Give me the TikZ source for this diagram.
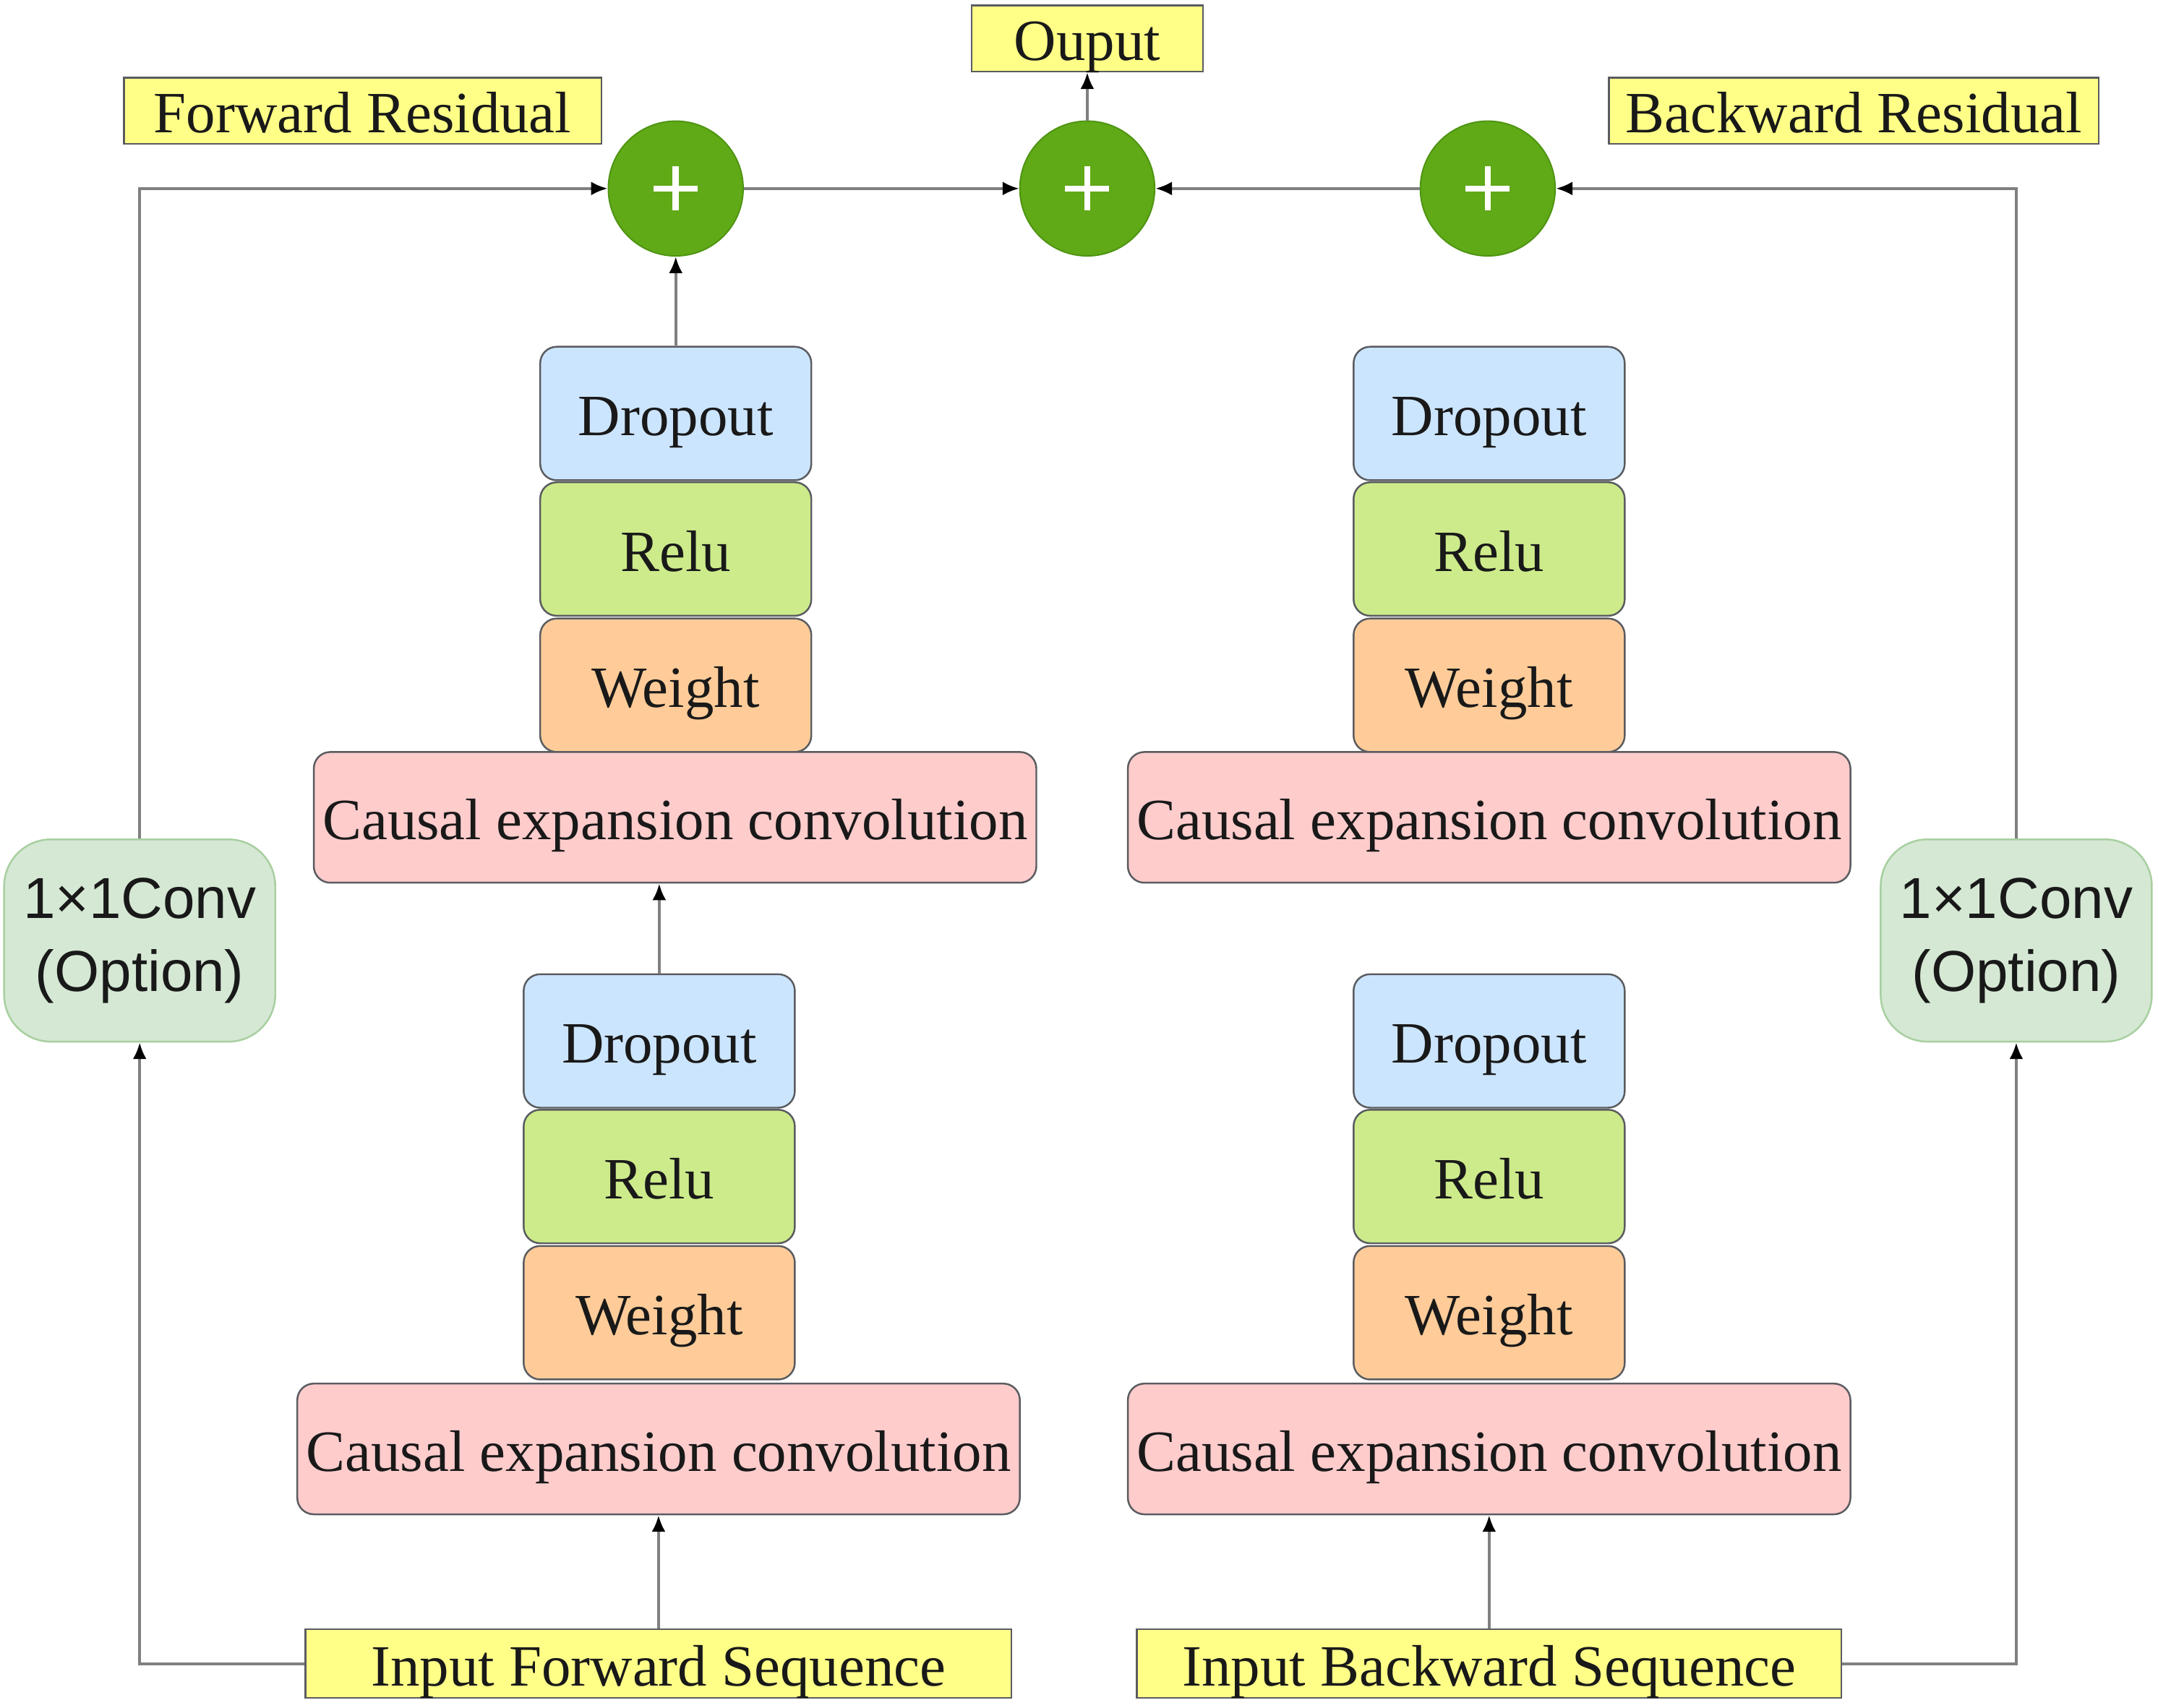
\documentclass[tikz,border=0pt]{standalone}
\usepackage{fontspec}
\setmainfont{Liberation Serif}
\setsansfont{Liberation Sans}
\usetikzlibrary{arrows.meta}
\definecolor{dropc}{HTML}{CCE5FF}
\definecolor{reluc}{HTML}{CDEB8B}
\definecolor{weightc}{HTML}{FFCC99}
\definecolor{causc}{HTML}{FFCCCC}
\definecolor{yelc}{HTML}{FFFF88}
\definecolor{edgec}{HTML}{5A5C60}
\definecolor{convc}{HTML}{D5E8D4}
\definecolor{convb}{HTML}{A8CFA0}
\definecolor{circc}{HTML}{60A917}
\definecolor{circb}{HTML}{4E9412}
\definecolor{linec}{HTML}{808080}
\begin{document}
\begin{tikzpicture}[x=1pt,y=-1pt,
  lbl/.style={font=\fontsize{42.5}{50}\selectfont, text=black!90, inner sep=0pt, align=center},
  one/.style={text height=34pt, text depth=2pt},
  blk/.style={lbl, one, draw=edgec, line width=1.3pt, rounded corners=12pt},
  dropbox/.style={blk, fill=dropc, minimum width=197pt, minimum height=97pt},
  relubox/.style={blk, fill=reluc, minimum width=197pt, minimum height=97pt},
  weightbox/.style={blk, fill=weightc, minimum width=197pt, minimum height=97pt},
  causbox/.style={blk, fill=causc, minimum width=525pt, minimum height=95pt},
  yelbox/.style={lbl, one, draw=edgec, line width=1.3pt, fill=yelc, minimum height=48pt},
  convbox/.style={lbl, font=\sffamily\fontsize{42}{53}\selectfont, draw=convb, line width=1.3pt, fill=convc, rounded corners=34pt, minimum width=197pt, minimum height=147pt},
  sumc/.style={circle, fill=circc, draw=circb, line width=1pt, minimum size=98pt, inner sep=0pt},
  plus/.style={white, line width=4.5pt},
  conn/.style={draw=linec, line width=2pt, -{Latex[length=12pt,width=10pt,color=black]}}
]
\useasboundingbox (0,0) rectangle (1568,1241);

% top labels
\node[yelbox, minimum width=168pt] (out) at (790,28) {Ouput};
\node[yelbox, minimum width=347pt] (fres) at (263.5,80.5) {Forward Residual};
\node[yelbox, minimum width=356pt] (bres) at (1347,80.5) {Backward Residual};

% sum circles
\node[sumc] (p1) at (491,137) {};
\node[sumc] (p2) at (790,137) {};
\node[sumc] (p3) at (1081,137) {};
\foreach \p in {p1,p2,p3}{
  \draw[plus] (\p.center) ++(-16,0) -- ++(32,0);
  \draw[plus] (\p.center) ++(0,-16) -- ++(0,32);
}

% left upper stack
\node[dropbox] (dL1) at (491,300.5) {Dropout};
\node[relubox] (rL1) at (491,399) {Relu};
\node[weightbox] (wL1) at (491,498) {Weight};
\node[causbox] (cL1) at (490.5,594) {Causal expansion convolution};

% left lower stack
\node[dropbox] (dL2) at (479,756.5) {Dropout};
\node[relubox] (rL2) at (479,855) {Relu};
\node[weightbox] (wL2) at (479,954) {Weight};
\node[causbox] (cL2) at (478.5,1053) {Causal expansion convolution};

% right upper stack
\node[dropbox] (dR1) at (1082,300.5) {Dropout};
\node[relubox] (rR1) at (1082,399) {Relu};
\node[weightbox] (wR1) at (1082,498) {Weight};
\node[causbox] (cR1) at (1082,594) {Causal expansion convolution};

% right lower stack
\node[dropbox] (dR2) at (1082,756.5) {Dropout};
\node[relubox] (rR2) at (1082,855) {Relu};
\node[weightbox] (wR2) at (1082,954) {Weight};
\node[causbox] (cR2) at (1082,1053) {Causal expansion convolution};

% inputs
\node[yelbox, minimum width=513pt, minimum height=50pt] (ifs) at (478.5,1209) {Input Forward Sequence};
\node[yelbox, minimum width=512pt, minimum height=50pt] (ibs) at (1082,1209) {Input Backward Sequence};

% 1x1 conv
\node[convbox] (convL) at (101.5,683.5) {1×1Conv\\(Option)};
\node[convbox] (convR) at (1465,683.5) {1×1Conv\\(Option)};

% connectors
\draw[conn] (ifs.west) -| (convL.south);
\draw[conn] (convL.north) |- (p1.west);
\draw[conn] (ibs.east) -| (convR.south);
\draw[conn] (convR.north) |- (p3.east);
\draw[conn] (p1.east) -- (p2.west);
\draw[conn] (p3.west) -- (p2.east);
\draw[conn] (p2.north) -- (out.south);
\draw[conn] (dL1.north) -- (p1.south);
\draw[conn] (dL2.north) -- (dL2.north |- cL1.south);
\draw[conn] (ifs.north) -- (cL2.south);
\draw[conn] (ibs.north) -- (cR2.south);
\end{tikzpicture}
\end{document}
